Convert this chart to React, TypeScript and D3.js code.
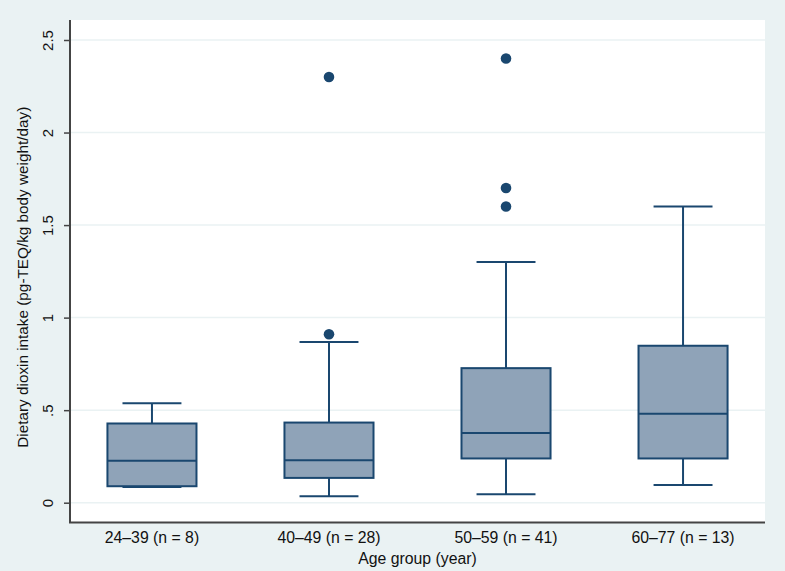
import { useEffect, useRef } from 'react';
import * as d3 from 'd3';

// Age groups along the x axis
const categories = ['24–39 (n = 8)', '40–49 (n = 28)', '50–59 (n = 41)', '60–77 (n = 13)'];

// Box statistics
const lowerWhisker = [0.085, 0.035, 0.046, 0.095];
const q1 = [0.089, 0.134, 0.239, 0.239];
const median = [0.226, 0.23, 0.377, 0.48];
const q3 = [0.428, 0.433, 0.727, 0.848];
const upperWhisker = [0.538, 0.868, 1.3, 1.6];
const outliers = [[], [0.91, 2.3], [1.6, 1.7, 2.4], []];

const yTicks = [0, 0.5, 1, 1.5, 2, 2.5];
const yTickLabels = ['0', '.5', '1', '1.5', '2', '2.5'];

const WIDTH = 785;
const HEIGHT = 571;
const NAVY = '#1a476f';
const FILL = '#8fa3b8';
const BG = '#eaf2f3';
const FONT = '"Liberation Sans", Arial, Helvetica, sans-serif';

export default function App() {
  const svgRef = useRef<SVGSVGElement>(null);

  useEffect(() => {
    if (!svgRef.current) return;
    document.body.style.margin = '0';

    const plot = { left: 70, right: 765, top: 20, bottom: 522.5 };

    const svg = d3.select(svgRef.current);
    svg.selectAll('*').remove();
    svg.attr('width', WIDTH).attr('height', HEIGHT);

    svg.append('rect').attr('width', WIDTH).attr('height', HEIGHT).attr('fill', BG);
    svg
      .append('rect')
      .attr('x', plot.left)
      .attr('y', plot.top)
      .attr('width', plot.right - plot.left)
      .attr('height', plot.bottom - plot.top)
      .attr('fill', '#fff');

    const x = d3.scalePoint<string>().domain(categories).range([plot.left, plot.right]).padding(0.463);
    const y = d3.scaleLinear().domain([0, 2.5]).range([502.7, 40]);
    const step = x.step();
    const boxW = step * 0.503;
    const capW = step * 0.333;

    // Grid
    svg
      .selectAll('.grid')
      .data(yTicks)
      .enter()
      .append('line')
      .attr('x1', plot.left)
      .attr('x2', plot.right)
      .attr('y1', (d) => y(d))
      .attr('y2', (d) => y(d))
      .attr('stroke', BG)
      .attr('stroke-width', 1.5);

    // Y axis
    const yAxis = svg
      .append('g')
      .attr('transform', `translate(${plot.left},0)`)
      .call(
        d3
          .axisLeft(y)
          .tickValues(yTicks)
          .tickSize(6)
          .tickPadding(9)
          .tickFormat((_, i) => yTickLabels[i]),
      );
    yAxis.select('.domain').remove();
    yAxis.selectAll('.tick line').attr('stroke', '#444').attr('stroke-width', 1.5);
    yAxis
      .selectAll<SVGTextElement, number>('.tick text')
      .attr('fill', '#111')
      .style('font-family', FONT)
      .style('font-size', '15px')
      .attr('x', 0)
      .attr('dy', 0)
      .attr('text-anchor', 'middle')
      .attr('transform', 'translate(-17.5,0) rotate(-90)');

    // axis lines
    svg
      .append('line')
      .attr('x1', plot.left)
      .attr('x2', plot.left)
      .attr('y1', plot.top)
      .attr('y2', plot.bottom)
      .attr('stroke', '#444')
      .attr('stroke-width', 2);
    svg
      .append('line')
      .attr('x1', plot.left - 1)
      .attr('x2', plot.right)
      .attr('y1', plot.bottom)
      .attr('y2', plot.bottom)
      .attr('stroke', '#444')
      .attr('stroke-width', 2);

    // Boxes
    const groups = svg
      .selectAll('.box')
      .data(categories)
      .enter()
      .append('g')
      .attr('transform', (d) => `translate(${x(d)},0)`);

    groups
      .append('line')
      .attr('y1', (_, i) => y(upperWhisker[i]))
      .attr('y2', (_, i) => y(q3[i]))
      .attr('stroke', NAVY)
      .attr('stroke-width', 2);
    groups
      .append('line')
      .attr('y1', (_, i) => y(q1[i]))
      .attr('y2', (_, i) => y(lowerWhisker[i]))
      .attr('stroke', NAVY)
      .attr('stroke-width', 2);
    for (const arr of [upperWhisker, lowerWhisker]) {
      groups
        .append('line')
        .attr('x1', -capW / 2)
        .attr('x2', capW / 2)
        .attr('y1', (_, i) => y(arr[i]))
        .attr('y2', (_, i) => y(arr[i]))
        .attr('stroke', NAVY)
        .attr('stroke-width', 2);
    }
    groups
      .append('rect')
      .attr('x', -boxW / 2)
      .attr('width', boxW)
      .attr('y', (_, i) => y(q3[i]))
      .attr('height', (_, i) => y(q1[i]) - y(q3[i]))
      .attr('fill', FILL)
      .attr('stroke', NAVY)
      .attr('stroke-width', 2);
    groups
      .append('line')
      .attr('x1', -boxW / 2)
      .attr('x2', boxW / 2)
      .attr('y1', (_, i) => y(median[i]))
      .attr('y2', (_, i) => y(median[i]))
      .attr('stroke', NAVY)
      .attr('stroke-width', 2);
    groups
      .selectAll('circle')
      .data((_, i) => outliers[i])
      .enter()
      .append('circle')
      .attr('cy', (d) => y(d))
      .attr('r', 5.3)
      .attr('fill', NAVY);

    // X labels
    svg
      .selectAll('.xlab')
      .data(categories)
      .enter()
      .append('text')
      .attr('x', (d) => x(d) as number)
      .attr('y', 542.5)
      .attr('text-anchor', 'middle')
      .attr('fill', '#111')
      .style('font-family', FONT)
      .style('font-size', '15.8px')
      .text((d) => d);

    // Titles
    svg
      .append('text')
      .attr('x', (plot.left + plot.right) / 2)
      .attr('y', 564)
      .attr('text-anchor', 'middle')
      .attr('fill', '#111')
      .style('font-family', FONT)
      .style('font-size', '15.8px')
      .text('Age group (year)');
    svg
      .append('text')
      .attr('transform', `translate(27.5,${(plot.top + plot.bottom) / 2 + 6}) rotate(-90)`)
      .attr('text-anchor', 'middle')
      .attr('fill', '#111')
      .style('font-family', FONT)
      .style('font-size', '15.3px')
      .text('Dietary dioxin intake (pg-TEQ/kg body weight/day)');
  }, []);

  return <svg ref={svgRef} style={{ display: 'block' }} />;
}
